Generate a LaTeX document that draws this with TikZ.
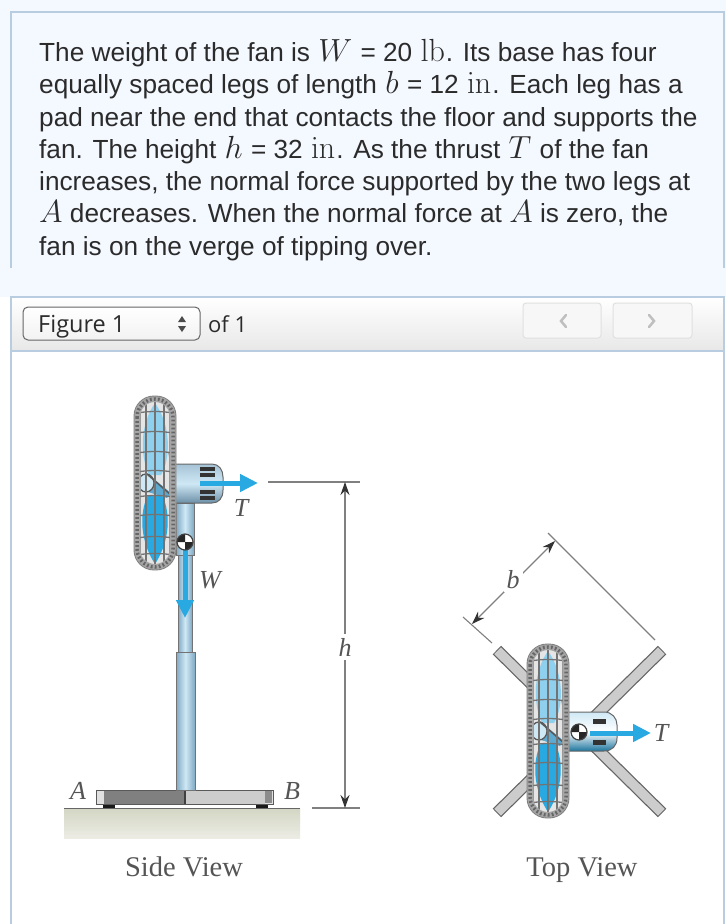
\documentclass[tikz,border=0pt]{standalone}
\usepackage[no-math]{fontspec}
\usepackage{fix-cm}
\setmainfont{Liberation Sans}
\newfontfamily\lblfont{Liberation Serif}
\newfontfamily\uifont{Open Sans}
\usetikzlibrary{arrows.meta}
\definecolor{pagebg}{HTML}{F4F8FF}
\definecolor{rulec}{HTML}{B9CDE0}
\definecolor{txt}{HTML}{2B2B2B}
\definecolor{lbl}{HTML}{555555}
\definecolor{fanblue}{HTML}{29A9E1}
\definecolor{lightblue}{HTML}{8FD0EE}
\definecolor{steel}{HTML}{7FA9C4}
\definecolor{polelight}{HTML}{CFE8F5}
\definecolor{groundtop}{HTML}{D3D6C4}
\definecolor{groundbot}{HTML}{ECECE4}
\newcommand{\mv}[1]{{\fontsize{32}{32}\selectfont$#1$}}
\newcommand{\mvk}[1]{\kern1pt\mv{#1}\kern1pt\relax}
\tikzset{
  x=1pt,y=-1pt,
  panelrule/.style={draw=rulec,line width=2},
  para/.style={anchor=north west,align=left,text=txt,inner sep=0,font=\fontsize{26.2}{32.3}\selectfont},
  itlabel/.style={text=lbl,inner sep=0,font=\lblfont\itshape\fontsize{26}{26}\selectfont},
  caption/.style={anchor=base,text=lbl,inner sep=0,font=\lblfont\fontsize{28.5}{28}\selectfont},
  uilabel/.style={anchor=base west,inner sep=0,text=txt,font=\uifont\fontsize{22}{22}\selectfont},
  dimline/.style={draw=black!50,line width=1.1},
  dimarrow/.style={dimline,{Stealth[length=13,width=9,black!80]}-{Stealth[length=13,width=9,black!80]}},
  force/.style={draw=fanblue,line width=5,-{Triangle[length=18,width=17,fanblue]}},
  navbtn/.style={draw=black!12,fill=black!3,rounded corners=3,line width=1},
  navmark/.style={draw=black!25,line width=2.5,line cap=round},
  polepart/.style={left color=steel,right color=steel,middle color=polelight,draw=black!55,line width=.9},
  leg/.pic={
    \draw[black!60,line width=12] (0,0)--(116,0);
    \draw[black!20,line width=9.5] (0,0)--(115,0);
  },
  ballmark/.pic={
    \fill[white] (0,0) circle (8);
    \fill[black!85] (0,0) -- (8,0) arc (0:90:8) -- cycle;
    \fill[black!85] (0,0) -- (-8,0) arc (180:270:8) -- cycle;
    \draw[black!75,line width=1.2] (0,0) circle (8);
  },
  fanguard/.pic={
    \fill[black!10,rounded corners=20] (-21,-87) rectangle (21,87);
    \fill[lightblue] (0,-80) .. controls (16,-58) and (16,-25) .. (6,-8) -- (-6,-8) .. controls (-16,-30) and (-14,-60) .. (0,-80) -- cycle;
    \fill[fanblue] (0,81) .. controls (15,58) and (16,30) .. (7,12) -- (-7,12) .. controls (-16,30) and (-15,58) .. (0,81) -- cycle;
    \fill[steel!60!fanblue] (-6,-8) -- (16,10) -- (12,15) -- (-10,8) -- cycle;
    \fill[polelight] (-9,0) ellipse (8 and 9);
    \draw[black!65,line width=1.3] (-9,0) ellipse (8 and 9);
    \draw[black!65,line width=1.5] (-8,-9) -- (16,12);
    \draw[black!50,line width=1.2] (14,-30) -- (17,-12);
    \foreach \xx in {-15,15}
      \draw[black!40,line width=1.3] (\xx,-76) -- (\xx,76);
    \foreach \xx in {-9,0,9}
      \draw[black!55,line width=1.3] (\xx,-81) -- (\xx,81);
    \foreach \yy in {-70,-50,-30,-11,14,33,55,72}
      \draw[black!55,line width=1.3] (-18,\yy) .. controls (-6,\yy-2) and (6,\yy-2) .. (18,\yy);
    \draw[black!35,line width=6,rounded corners=18] (-18,-84) rectangle (18,84);
    \draw[black!60,line width=3.5,dash pattern=on 1.8 off 2.2,rounded corners=18] (-18,-84) rectangle (18,84);
    \draw[black!50,line width=.9,rounded corners=20] (-21,-87) rectangle (21,87);
  }
}
\begin{document}
\begin{tikzpicture}
\useasboundingbox (0,0) rectangle (726,924);
% page
\fill[pagebg] (0,0) rectangle (726,297);
\fill[white] (0,297) rectangle (726,924);
\fill[pagebg] (11,12) rectangle (724,268);
\draw[panelrule] (11,268) -- (11,12) -- (724,12) -- (724,268);
\node[para] (question) at (39,39) {The weight of the fan is \mvk{W} = 20 \mvk{\mathrm{lb}}. Its base has four\\
equally spaced legs of length \mvk{b} = 12 \mvk{\mathrm{in}}. Each leg has a\\
pad near the end that contacts the floor and supports the\\
fan. The height \mvk{h} = 32 \mvk{\mathrm{in}}. As the thrust \mvk{T} of the fan\\
increases, the normal force supported by the two legs at\\
\mv{A} decreases. When the normal force at \mv{A} is zero, the\\
fan is on the verge of tipping over.};
% toolbar
\shade[top color=white,bottom color=black!9] (11,297) rectangle (724,350);
\draw[panelrule] (11,924) -- (11,297) -- (724,297) -- (724,924);
\draw[panelrule] (11,350.5) -- (724,350.5);
\shade[top color=white,bottom color=black!5,draw=black!60,line width=1,rounded corners=5] (23,307) rectangle (200,340);
\node[uilabel,font=\uifont\fontsize{23.5}{23.5}\selectfont] (figsel) at (38,332) {Figure 1};
\fill[black!70] (178,322) -- (186,322) -- (182,316) -- cycle;
\fill[black!70] (178,326) -- (186,326) -- (182,332) -- cycle;
\node[uilabel] (ofone) at (208,332) {of 1};
\path[navbtn] (523,303) rectangle (601,338);
\path[navbtn] (613,303) rectangle (692,338);
\draw[navmark] (566,315) -- (561,321) -- (566,327);
\draw[navmark] (649,315) -- (654,321) -- (649,327);
% --- side view
\shade[top color=groundtop,bottom color=groundbot] (64,808) rectangle (300,838);
\draw[black!60,line width=1] (64,808.5) -- (300,808.5);
\fill[black!90] (103,804) rectangle (115,808);
\fill[black!90] (256,804) rectangle (268,808);
\draw[black!65,fill=black!12,line width=1] (96,790) rectangle (273,804);
\fill[black!50] (104,790.5) rectangle (185,803.5);
\fill[black!20] (185,790.5) rectangle (265,803.5);
\fill[black!45] (265,791) rectangle (272,803);
\draw[black!75,line width=1.2] (185,790) -- (185,804);
\shade[polepart] (176,652) rectangle (195,790);
\shade[polepart] (178,552) rectangle (192,652);
\shade[polepart] (176,503) rectangle (194,555);
\shade[top color=steel!70!white,bottom color=steel!85!black,middle color=polelight,draw=black!60,line width=1] (170,464) -- (212,464) .. controls (219,464) and (223,470) .. (223,477) -- (223,490) .. controls (223,498) and (219,503) .. (212,503) -- (170,503) -- cycle;
\foreach \vy in {469,475,492,498}
  \fill[black!80] (200,\vy-2) rectangle (215,\vy+2);
\pic at (155,483) {fanguard};
\coordinate (thrustS) at (200,483);
\coordinate (thrustE) at (258,483);
\draw[force] (thrustS) -- (thrustE);
\coordinate (weightS) at (185,545);
\coordinate (weightE) at (185,618);
\draw[force] (weightS) -- (weightE);
\pic at (185,542) {ballmark};
\node[itlabel] (labT) at (241,508) {T};
\node[itlabel] (labW) at (210,580) {W};
\node[itlabel] (labA) at (78,791) {A};
\node[itlabel] (labB) at (292,791) {B};
\node[caption] (side) at (184,876) {Side View};
% h dimension
\coordinate (hT1) at (268,482);
\coordinate (hT2) at (360,482);
\coordinate (hB1) at (312,808);
\coordinate (hB2) at (360,808);
\coordinate (hTop) at (345,482);
\coordinate (hBot) at (345,808);
\draw[dimline] (hT1) -- (hT2);
\draw[dimline] (hB1) -- (hB2);
\draw[dimarrow] (hTop) -- (hBot);
\node[itlabel,fill=white,inner xsep=2,inner ysep=4] (labh) at (345,647) {h};
% --- top view
\begin{scope}[shift={(579.5,731.5)}]
  \pic[rotate=-44.6] {leg};
  \pic[rotate=44.6] {leg};
  \pic[rotate=135.4] {leg};
  \pic[rotate=-135.4] {leg};
\end{scope}
\shade[top color=polelight,bottom color=fanblue!70!black,middle color=white,draw=black!60,line width=1] (560,712) -- (604,712) .. controls (612,712) and (617,718) .. (617,725) -- (617,738) .. controls (617,746) and (612,751) .. (604,751) -- (560,751) -- cycle;
\fill[black!80] (593,719) rectangle (606,724);
\fill[black!80] (593,740) rectangle (606,745);
\pic at (548,731) {fanguard};
\coordinate (ttS) at (590,733);
\coordinate (ttE) at (651,733);
\draw[force] (ttS) -- (ttE);
\pic at (579,732) {ballmark};
\node[itlabel] (labT2) at (661,733) {T};
\node[caption] (top) at (582,876) {Top View};
% b dimension
\coordinate (bL1) at (463,617);
\coordinate (bL2) at (492,643);
\coordinate (bR1) at (548,533);
\coordinate (bR2) at (655,640);
\coordinate (bD1) at (472,624);
\coordinate (bD2) at (555,541);
\draw[dimline] (bL1) -- (bL2);
\draw[dimline] (bR1) -- (bR2);
\draw[dimarrow] (bD1) -- (bD2);
\node[itlabel,fill=white,inner sep=3] (labb) at (513,580) {b};
\end{tikzpicture}
\end{document}
